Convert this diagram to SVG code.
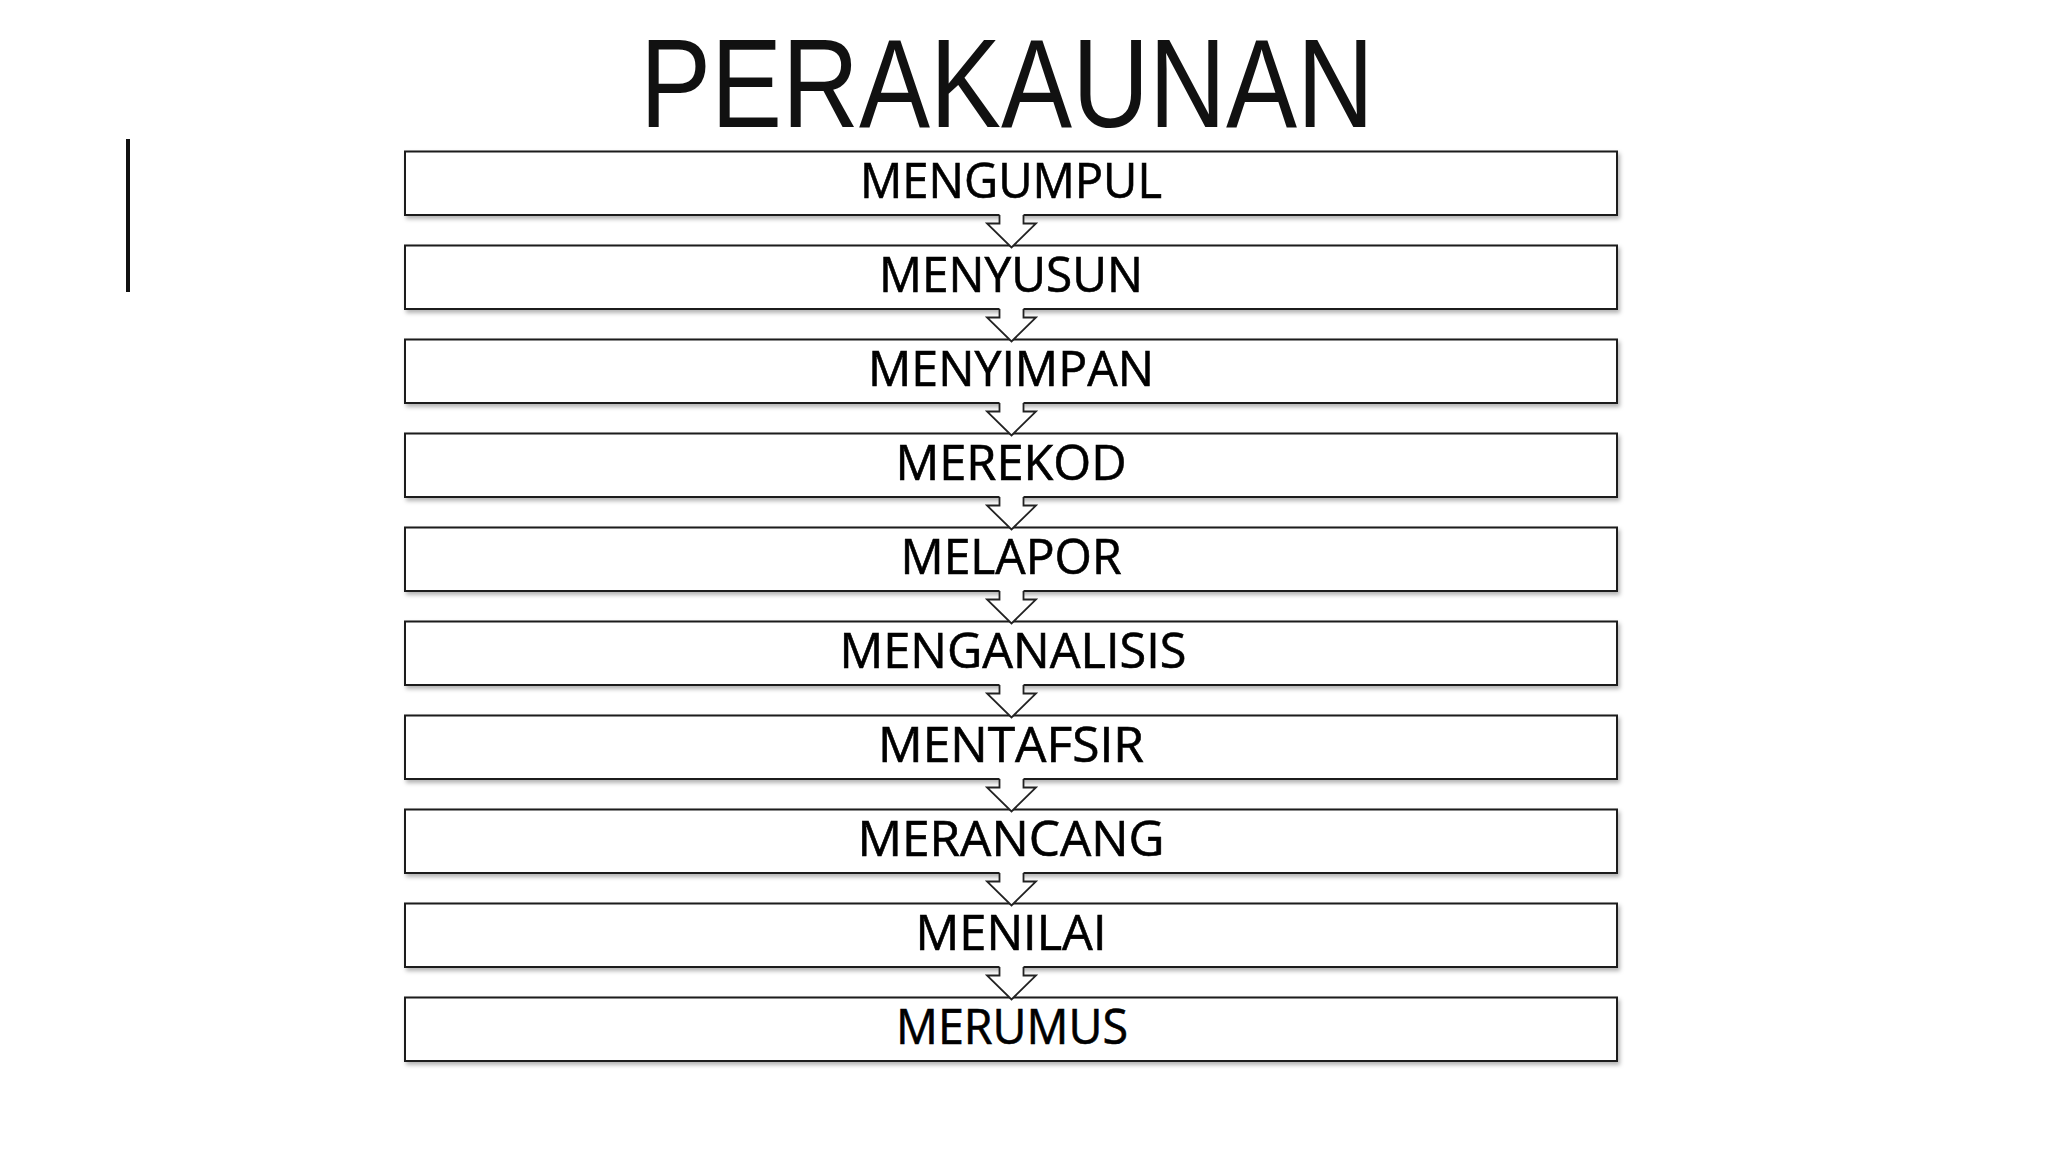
<svg xmlns="http://www.w3.org/2000/svg" width="2048" height="1152" viewBox="0 0 2048 1152">
<style>
.box{fill:#fff;stroke:#1a1a1a;stroke-width:2;filter:url(#sh)}
.lbl{font-family:"Open Sans","Noto Sans","Liberation Sans",sans-serif;font-size:49px;fill:#000;stroke:#000;stroke-width:0.6;text-anchor:middle}
.afill{fill:#fff;stroke:none}
.aline{fill:none;stroke:#222;stroke-width:1.8;stroke-linejoin:miter}
.title{font-family:"Liberation Sans Narrow","Liberation Sans",Arial,sans-serif;font-size:126px;fill:#111;text-anchor:middle}
</style>
<defs>
<filter id="sh" x="-5%" y="-20%" width="110%" height="150%">
<feDropShadow dx="2" dy="3" stdDeviation="2" flood-color="#000" flood-opacity="0.3"/>
</filter>
<g id="arrowShape">
<path class="afill" d="M999.5,211 V223.5 H987 L1011.5,247.5 L1036,223.5 H1023.5 V211 Z"/>
<path class="aline" d="M999.5,215 V223.5 H987 L1011.5,247.5 L1036,223.5 H1023.5 V215"/>
</g>
</defs>
<rect width="2048" height="1152" fill="#fff"/>
<text class="title" x="1007" y="127" textLength="734" lengthAdjust="spacingAndGlyphs">PERAKAUNAN</text>
<line x1="128" y1="139" x2="128" y2="292" stroke="#111" stroke-width="4"/>
<g id="n1"><rect class="box" x="405" y="151.5" width="1212" height="63.5"/><text class="lbl" x="1011" y="197.5" textLength="302" lengthAdjust="spacingAndGlyphs">MENGUMPUL</text></g>
<g id="n2"><rect class="box" x="405" y="245.5" width="1212" height="63.5"/><text class="lbl" x="1011" y="291.5" textLength="264" lengthAdjust="spacingAndGlyphs">MENYUSUN</text></g>
<g id="n3"><rect class="box" x="405" y="339.5" width="1212" height="63.5"/><text class="lbl" x="1011" y="385.5" textLength="286" lengthAdjust="spacingAndGlyphs">MENYIMPAN</text></g>
<g id="n4"><rect class="box" x="405" y="433.5" width="1212" height="63.5"/><text class="lbl" x="1011" y="479.5" textLength="231" lengthAdjust="spacingAndGlyphs">MEREKOD</text></g>
<g id="n5"><rect class="box" x="405" y="527.5" width="1212" height="63.5"/><text class="lbl" x="1011" y="573.5" textLength="221" lengthAdjust="spacingAndGlyphs">MELAPOR</text></g>
<g id="n6"><rect class="box" x="405" y="621.5" width="1212" height="63.5"/><text class="lbl" x="1013" y="667.5" textLength="347" lengthAdjust="spacingAndGlyphs">MENGANALISIS</text></g>
<g id="n7"><rect class="box" x="405" y="715.5" width="1212" height="63.5"/><text class="lbl" x="1011" y="761.5" textLength="266" lengthAdjust="spacingAndGlyphs">MENTAFSIR</text></g>
<g id="n8"><rect class="box" x="405" y="809.5" width="1212" height="63.5"/><text class="lbl" x="1011" y="855.5" textLength="307" lengthAdjust="spacingAndGlyphs">MERANCANG</text></g>
<g id="n9"><rect class="box" x="405" y="903.5" width="1212" height="63.5"/><text class="lbl" x="1011" y="949.5" textLength="191" lengthAdjust="spacingAndGlyphs">MENILAI</text></g>
<g id="n10"><rect class="box" x="405" y="997.5" width="1212" height="63.5"/><text class="lbl" x="1012" y="1043.5" textLength="232" lengthAdjust="spacingAndGlyphs">MERUMUS</text></g>
<g id="connectors">
<use href="#arrowShape"/>
<use href="#arrowShape" y="94"/>
<use href="#arrowShape" y="188"/>
<use href="#arrowShape" y="282"/>
<use href="#arrowShape" y="376"/>
<use href="#arrowShape" y="470"/>
<use href="#arrowShape" y="564"/>
<use href="#arrowShape" y="658"/>
<use href="#arrowShape" y="752"/>
</g>
</svg>
